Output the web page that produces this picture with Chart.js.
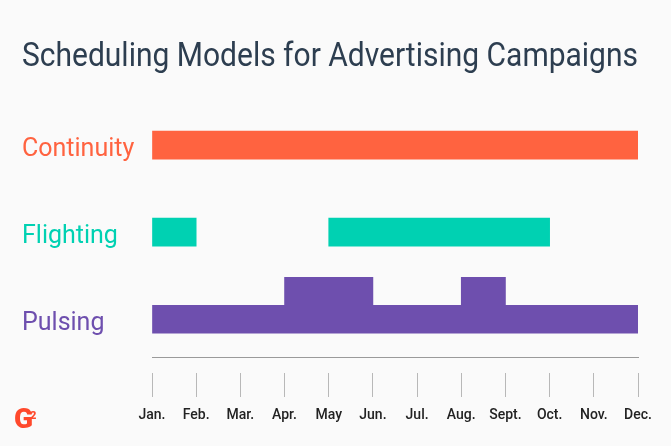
<!DOCTYPE html>
<html>
<head>
<meta charset="utf-8">
<script src="https://cdn.jsdelivr.net/npm/chart.js@4/dist/chart.umd.min.js"></script>
<style>
  html, body { margin: 0; padding: 0; background: #fafafa; }
  #wrap { position: relative; width: 671px; height: 446px; }
  #logo {
    position: absolute; left: 14px; top: 405px;
    font-family: Roboto, sans-serif; font-weight: 900; color: #ff492c;
    font-size: 28px; line-height: 28px;
  }
  #logo sup { font-size: 11px; vertical-align: top; position: relative; top: -3px; margin-left: -3px; }
</style>
</head>
<body>
<div id="wrap">
  <canvas id="schedChart" width="671" height="446"></canvas>
  <div id="logo">G<sup>2</sup></div>
</div>
<script>
// months on the x axis
const months = ['Jan.', 'Feb.', 'Mar.', 'Apr.', 'May', 'Jun.', 'Jul.', 'Aug.', 'Sept.', 'Oct.', 'Nov.', 'Dec.'];

// rows (top to bottom) and the level each sits on
const rowNames = ['Continuity', 'Flighting', 'Pulsing'];
const rowLevels = [3, 2, 1];
const rowColors = ['#ff6340', '#00d1b2', '#6e4fae'];

// active spans as [startMonthIndex, endMonthIndex]
const continuitySpans = [[0, 11]];
const flightingSpans = [[0, 1], [4, 9]];
const pulsingBaseSpans = [[0, 11]];
const pulsingPeakSpans = [[3, 5], [7, 8]];
const pulsingPeakLevel = 1.32;

function toBars(spans, level) {
    return spans.map(s => ({ x: s, y: level }));
}

function barSet(label, spans, level, color) {
    return {
        label,
        data: toBars(spans, level),
        backgroundColor: color,
        borderWidth: 0,
        borderSkipped: false,
        barThickness: 28,
        grouped: false
    };
}

const ctx = document.getElementById('schedChart');

new Chart(ctx, {
    type: 'bar',
    data: {
        datasets: [
            barSet('Continuity', continuitySpans, rowLevels[0], rowColors[0]),
            barSet('Flighting', flightingSpans, rowLevels[1], rowColors[1]),
            barSet('Pulsing', pulsingBaseSpans, rowLevels[2], rowColors[2]),
            barSet('Pulsing peak', pulsingPeakSpans, pulsingPeakLevel, rowColors[2])
        ]
    },
    options: {
        indexAxis: 'y',
        responsive: false,
        animation: false,
        layout: { padding: { left: 22, right: 33, top: 0, bottom: 22 } },
        plugins: {
            legend: { display: false },
            tooltip: { enabled: false },
            title: {
                display: true,
                text: 'Scheduling Models for Advertising Campaigns',
                align: 'start',
                color: '#2d3e50',
                font: { family: 'Roboto', size: 33, weight: '400' },
                padding: { top: 38, bottom: 24 }
            }
        },
        scales: {
            x: {
                type: 'linear',
                min: 0,
                max: months.length - 1,
                border: { display: true, color: '#9a9a9a', width: 1 },
                grid: {
                    drawOnChartArea: false,
                    drawTicks: true,
                    tickLength: 40,
                    tickBorderDash: [0, 15, 25, 100],
                    color: '#b8b8b8',
                    lineWidth: 1
                },
                ticks: {
                    stepSize: 1,
                    autoSkip: false,
                    maxRotation: 0,
                    padding: 10,
                    color: '#222222',
                    font: { family: 'Roboto', size: 14, weight: '500' },
                    callback: v => months[v]
                },
                afterFit: s => { s.height = 67; }
            },
            y: {
                type: 'linear',
                offset: false,
                min: 0.566,
                max: 3.5,
                border: { display: false },
                grid: { display: false },
                afterBuildTicks: s => { s.ticks = rowLevels.map(v => ({ value: v })); },
                afterFit: s => { s.width = 130; },
                ticks: {
                    crossAlign: 'far',
                    padding: 0,
                    labelOffset: 5,
                    font: { family: 'Roboto', size: 25, weight: '400' },
                    color: c => rowColors[rowLevels.indexOf(c.tick.value)],
                    callback: v => rowNames[rowLevels.indexOf(v)]
                }
            }
        }
    }
});
</script>
</body>
</html>
